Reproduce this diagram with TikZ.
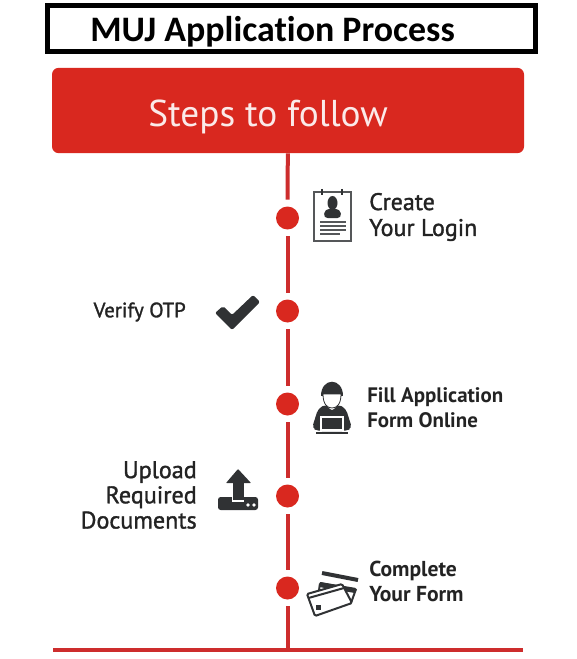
\documentclass[tikz,border=0pt]{standalone}
\usepackage{fontspec}
\setmainfont{PT Sans}
\newfontfamily\titlefont[Ligatures=NoCommon]{Carlito}
\newfontfamily\mediumfont[FakeBold=1.4]{PT Sans}
\definecolor{stepred}{RGB}{217, 40, 31}
\definecolor{linered}{RGB}{205, 45, 45}
\definecolor{icondark}{RGB}{48, 50, 52}
\definecolor{icongrey}{RGB}{85, 87, 89}
\definecolor{labeldark}{RGB}{35, 35, 35}
\usetikzlibrary{positioning}

\begin{document}
\begin{tikzpicture}[
  x=0.75pt, y=-0.75pt,
  stepdot/.style={circle, fill=stepred, minimum size=17.25pt, inner sep=0pt},
  stemline/.style={draw=linered, line width=3pt},
  steplabel/.style={text=labeldark, inner sep=0pt},
  iconline/.style={draw=icondark, line width=1.5pt}
]
  \useasboundingbox (0, 0) rectangle (576, 659);

  \node[draw=black, line width=3.75pt, minimum width=366pt, minimum height=35pt, inner sep=0pt] (titlebox) at (291.5, 28.5) {};
  \node[font=\titlefont\bfseries\fontsize{26.9pt}{30pt}\selectfont, text=black, anchor=west, inner sep=0pt] (titletext) at (90, 32) {MUJ Application Process};

  \node[fill=stepred, rounded corners=5pt, minimum width=354pt, minimum height=64pt, inner sep=0pt] (header) at (288, 110.5) {};
  \node[text=white!90!stepred, font=\fontsize{28pt}{30pt}\selectfont, inner sep=0pt] (headertext) at (268, 117) {Steps to follow};

  \node[stepdot] (dotlogin) at (287.5, 218) {};
  \node[stepdot] (dotverify) at (287.5, 311) {};
  \node[stepdot] (dotfill) at (287.5, 404) {};
  \node[stepdot] (dotupload) at (287.5, 496) {};
  \node[stepdot] (dotform) at (287.5, 588) {};
  \coordinate (stemend) at (287.5, 650);
  \coordinate (ruleleft) at (53, 650);
  \coordinate (ruleright) at (523, 650);

  \draw[stemline, shorten >=5pt] (header) -- (dotlogin);
  \draw[stemline, shorten <=5pt, shorten >=5pt] (dotlogin) -- (dotverify);
  \draw[stemline, shorten <=5pt, shorten >=5pt] (dotverify) -- (dotfill);
  \draw[stemline, shorten <=5pt, shorten >=5pt] (dotfill) -- (dotupload);
  \draw[stemline, shorten <=5pt, shorten >=5pt] (dotupload) -- (dotform);
  \draw[stemline, shorten <=5pt] (dotform) -- (stemend);
  \draw[stemline] (ruleleft) -- (ruleright);

  \node[steplabel, align=left, anchor=west, font=\mediumfont\fontsize{18pt}{19.4pt}\selectfont] (login) at (369, 217) {Create\\Your Login};
  \node[steplabel, align=right, anchor=east, font=\mediumfont\fontsize{15.6pt}{18pt}\selectfont] (verify) at (186, 312) {Verify OTP};
  \node[steplabel, align=left, anchor=west, font=\bfseries\fontsize{15.7pt}{18.8pt}\selectfont] (fill) at (367, 408) {Fill Application\\Form Online};
  \node[steplabel, align=right, anchor=east, font=\mediumfont\fontsize{18.1pt}{18.9pt}\selectfont] (upload) at (197, 495) {Upload\\Required\\Documents};
  \node[steplabel, align=left, anchor=west, font=\bfseries\fontsize{16.2pt}{18.8pt}\selectfont] (form) at (369, 581) {Complete\\Your Form};

  % clipboard
  \draw[draw=icongrey, line width=1.5pt] (314, 192) rectangle (351, 241);
  \draw[iconline, line width=2.2pt] (322, 189) -- (322, 195) (342, 189) -- (342, 195);
  \fill[icondark] (332.5, 203) ellipse (5 and 7);
  \fill[icondark, rounded corners=3pt] (323.5, 218) -- (325, 209) -- (340, 209) -- (341.5, 218) -- cycle;
  \draw[draw=icongrey, line width=2pt] (320, 222) -- (346, 222) (320, 226) -- (346, 226) (320, 230) -- (346, 230) (320, 234) -- (340, 234);

  % check mark
  \fill[icondark, rounded corners=1.5pt] (215, 313) -- (223, 306) -- (232, 315) -- (253, 295) -- (260, 302) -- (232, 330) -- cycle;

  % person at laptop
  \fill[icondark, rounded corners=3pt] (312, 428) -- (318, 409) -- (326, 404) -- (332, 412) -- (338, 404) -- (346, 409) -- (352, 428) -- (346, 431) -- (318, 431) -- cycle;
  \fill[icondark] (321, 396) .. controls (321, 377) and (343, 377) .. (343, 396) -- cycle;
  \draw[icondark, line width=0.6pt, fill=white] (323, 394) .. controls (323, 404) and (327, 408) .. (332, 408) .. controls (337, 408) and (341, 404) .. (341, 394) -- cycle;
  \draw[white, line width=1pt, fill=icondark] (321, 417) rectangle (343, 430);
  \draw[icondark, line width=1pt] (316, 433) -- (348, 433);

  % upload
  \fill[icondark, rounded corners=2pt] (218, 497) rectangle (258, 510);
  \draw[white, line width=1.5pt, fill=icondark] (233, 483) -- (233, 501) -- (243, 501) -- (243, 483) -- cycle;
  \fill[icondark, rounded corners=0.5pt] (238, 469) -- (251, 483) -- (226, 483) -- cycle;
  \fill[icondark] (232.5, 482) rectangle (243.5, 500);
  \fill[white] (248, 505) circle (1.8) (254, 505) circle (1.8);

  % cards
  \draw[icondark, line width=3pt] (322, 573) -- (358, 580);
  \draw[iconline, fill=white, rounded corners=1pt] (320, 583) -- (356, 589) -- (351, 603) -- (318, 598) -- cycle;
  \fill[icondark] (320, 582) -- (357, 589) -- (355, 593) -- (319, 587) -- cycle;
  \draw[iconline, fill=white, rounded corners=1pt] (307, 594) -- (342, 584) -- (352, 603) -- (315, 616) -- cycle;
  \draw[iconline] (308.5, 598) -- (344, 588);
  \fill[icondark] (316, 605) rectangle (320.5, 610);
\end{tikzpicture}
\end{document}
